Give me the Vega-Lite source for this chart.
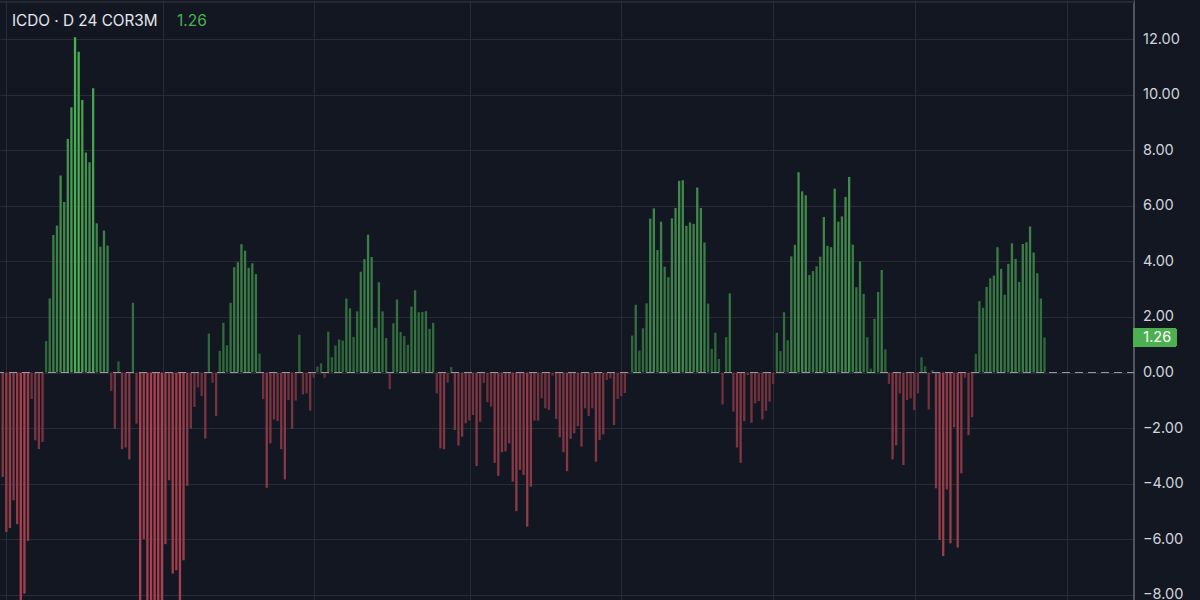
{
  "$schema": "https://vega.github.io/schema/vega-lite/v6.json",
  "width": 1133.5,
  "height": 600,
  "autosize": {"type": "none"},
  "padding": {"left": 0, "top": 0, "right": 66.5, "bottom": 0},
  "background": "#131722",
  "view": {"stroke": null},
  "data": {"values": [
    {"i":0,"v":-3.76},{"i":1,"v":-5.74},{"i":2,"v":-5.6},{"i":3,"v":-4.6},{"i":4,"v":-5.46},{"i":5,"v":-8.5},{"i":6,"v":-7.96},{"i":7,"v":-6.06},{"i":8,"v":-0.95},{"i":9,"v":-2.44},
    {"i":10,"v":-2.76},{"i":11,"v":-2.5},{"i":12,"v":1.13},{"i":13,"v":2.67},{"i":14,"v":4.95},{"i":15,"v":5.29},{"i":16,"v":7.09},{"i":17,"v":6.14},{"i":18,"v":8.41},{"i":19,"v":9.55},
    {"i":20,"v":12.07},{"i":21,"v":11.55},{"i":22,"v":9.81},{"i":23,"v":7.92},{"i":24,"v":7.57},{"i":25,"v":10.23},{"i":26,"v":5.37},{"i":27,"v":4.53},{"i":28,"v":5.11},{"i":29,"v":4.57},
    {"i":30,"v":-0.66},{"i":31,"v":-2.03},{"i":32,"v":0.4},{"i":33,"v":-2.76},{"i":34,"v":-2.7},{"i":35,"v":-3.13},{"i":36,"v":2.51},{"i":37,"v":-1.84},{"i":38,"v":-8.5},{"i":39,"v":-6.0},
    {"i":40,"v":-8.4},{"i":41,"v":-8.6},{"i":42,"v":-9.0},{"i":43,"v":-8.8},{"i":44,"v":-8.4},{"i":45,"v":-6.18},{"i":46,"v":-3.88},{"i":47,"v":-7.24},{"i":48,"v":-7.12},{"i":49,"v":-8.3},
    {"i":50,"v":-6.76},{"i":51,"v":-4.08},{"i":52,"v":-2.02},{"i":53,"v":-1.24},{"i":54,"v":-0.54},{"i":55,"v":-0.85},{"i":56,"v":-2.38},{"i":57,"v":1.4},{"i":58,"v":-0.37},{"i":59,"v":-1.57},
    {"i":60,"v":0.78},{"i":61,"v":1.79},{"i":62,"v":0.98},{"i":63,"v":2.51},{"i":64,"v":3.79},{"i":65,"v":3.97},{"i":66,"v":4.62},{"i":67,"v":4.39},{"i":68,"v":3.77},{"i":69,"v":3.93},
    {"i":70,"v":3.54},{"i":71,"v":0.68},{"i":72,"v":-0.96},{"i":73,"v":-4.15},{"i":74,"v":-2.55},{"i":75,"v":-1.69},{"i":76,"v":-1.75},{"i":77,"v":-2.76},{"i":78,"v":-3.85},{"i":79,"v":-0.99},
    {"i":80,"v":-2.03},{"i":81,"v":-1.01},{"i":82,"v":1.36},{"i":83,"v":-0.79},{"i":84,"v":-0.75},{"i":85,"v":-1.37},{"i":86,"v":-0.19},{"i":87,"v":0.21},{"i":88,"v":0.33},{"i":89,"v":-0.19},
    {"i":90,"v":1.47},{"i":91,"v":0.55},{"i":92,"v":0.97},{"i":93,"v":1.19},{"i":94,"v":1.15},{"i":95,"v":2.66},{"i":96,"v":2.31},{"i":97,"v":1.28},{"i":98,"v":2.2},{"i":99,"v":3.63},
    {"i":100,"v":4.08},{"i":101,"v":4.96},{"i":102,"v":4.16},{"i":103,"v":1.61},{"i":104,"v":3.25},{"i":105,"v":2.2},{"i":106,"v":1.24},{"i":107,"v":-0.6},{"i":108,"v":1.77},{"i":109,"v":2.63},
    {"i":110,"v":1.46},{"i":111,"v":1.31},{"i":112,"v":1.0},{"i":113,"v":2.37},{"i":114,"v":2.96},{"i":115,"v":2.17},{"i":116,"v":2.18},{"i":117,"v":2.21},{"i":118,"v":1.57},{"i":119,"v":1.79},
    {"i":120,"v":-0.75},{"i":121,"v":-2.73},{"i":122,"v":-2.76},{"i":123,"v":-0.37},{"i":124,"v":0.2},{"i":125,"v":-2.07},{"i":126,"v":-2.63},{"i":127,"v":-2.31},{"i":128,"v":-1.83},{"i":129,"v":-1.73},
    {"i":130,"v":-1.53},{"i":131,"v":-3.37},{"i":132,"v":-1.77},{"i":133,"v":-0.37},{"i":134,"v":-1.07},{"i":135,"v":-1.23},{"i":136,"v":-3.25},{"i":137,"v":-3.72},{"i":138,"v":-2.87},{"i":139,"v":-2.84},
    {"i":140,"v":-2.55},{"i":141,"v":-3.93},{"i":142,"v":-4.99},{"i":143,"v":-3.51},{"i":144,"v":-3.69},{"i":145,"v":-5.55},{"i":146,"v":-4.11},{"i":147,"v":-1.73},{"i":148,"v":-1.73},{"i":149,"v":-0.93},
    {"i":150,"v":-1.29},{"i":151,"v":-1.35},{"i":152,"v":-0.11},{"i":153,"v":-1.67},{"i":154,"v":-2.33},{"i":155,"v":-2.87},{"i":156,"v":-3.55},{"i":157,"v":-2.39},{"i":158,"v":-2.19},{"i":159,"v":-1.93},
    {"i":160,"v":-2.67},{"i":161,"v":-1.29},{"i":162,"v":-1.57},{"i":163,"v":-1.29},{"i":164,"v":-3.21},{"i":165,"v":-2.43},{"i":166,"v":-2.23},{"i":167,"v":-0.27},{"i":168,"v":-0.21},{"i":169,"v":-1.89},
    {"i":170,"v":-0.95},{"i":171,"v":-0.85},{"i":172,"v":-0.74},{"i":173,"v":0.02},{"i":174,"v":1.33},{"i":175,"v":2.44},{"i":176,"v":0.79},{"i":177,"v":1.59},{"i":178,"v":2.49},{"i":179,"v":5.54},
    {"i":180,"v":5.91},{"i":181,"v":4.41},{"i":182,"v":5.43},{"i":183,"v":3.81},{"i":184,"v":3.43},{"i":185,"v":5.55},{"i":186,"v":5.92},{"i":187,"v":6.9},{"i":188,"v":6.92},{"i":189,"v":5.28},
    {"i":190,"v":5.4},{"i":191,"v":5.35},{"i":192,"v":6.66},{"i":193,"v":5.92},{"i":194,"v":4.68},{"i":195,"v":2.48},{"i":196,"v":0.85},{"i":197,"v":1.43},{"i":198,"v":0.49},{"i":199,"v":-1.15},
    {"i":200,"v":1.27},{"i":201,"v":2.85},{"i":202,"v":-1.41},{"i":203,"v":-2.7},{"i":204,"v":-3.25},{"i":205,"v":-1.75},{"i":206,"v":-0.09},{"i":207,"v":-1.81},{"i":208,"v":-1.11},{"i":209,"v":-1.03},
    {"i":210,"v":-1.69},{"i":211,"v":-1.38},{"i":212,"v":-1.05},{"i":213,"v":-0.41},{"i":214,"v":1.43},{"i":215,"v":0.77},{"i":216,"v":2.17},{"i":217,"v":1.16},{"i":218,"v":4.18},{"i":219,"v":4.6},
    {"i":220,"v":7.21},{"i":221,"v":6.52},{"i":222,"v":6.38},{"i":223,"v":3.51},{"i":224,"v":3.65},{"i":225,"v":3.82},{"i":226,"v":4.17},{"i":227,"v":5.6},{"i":228,"v":4.56},{"i":229,"v":4.51},
    {"i":230,"v":6.62},{"i":231,"v":5.43},{"i":232,"v":5.62},{"i":233,"v":6.32},{"i":234,"v":7.04},{"i":235,"v":4.6},{"i":236,"v":3.07},{"i":237,"v":4.0},{"i":238,"v":2.83},{"i":239,"v":1.27},
    {"i":240,"v":0.14},{"i":241,"v":1.93},{"i":242,"v":2.9},{"i":243,"v":3.69},{"i":244,"v":0.83},{"i":245,"v":-0.41},{"i":246,"v":-3.13},{"i":247,"v":-2.62},{"i":248,"v":-0.75},{"i":249,"v":-3.33},
    {"i":250,"v":-0.99},{"i":251,"v":-0.93},{"i":252,"v":-1.35},{"i":253,"v":-0.75},{"i":254,"v":0.55},{"i":255,"v":0.22},{"i":256,"v":-1.33},{"i":257,"v":0.08},{"i":258,"v":-4.17},{"i":259,"v":-6.03},
    {"i":260,"v":-6.61},{"i":261,"v":-4.21},{"i":262,"v":-6.15},{"i":263,"v":-1.97},{"i":264,"v":-6.3},{"i":265,"v":-3.63},{"i":266,"v":-0.19},{"i":267,"v":-2.26},{"i":268,"v":-1.61},{"i":269,"v":0.67},
    {"i":270,"v":2.57},{"i":271,"v":2.33},{"i":272,"v":3.08},{"i":273,"v":3.39},{"i":274,"v":3.49},{"i":275,"v":4.51},{"i":276,"v":3.73},{"i":277,"v":2.8},{"i":278,"v":3.91},{"i":279,"v":4.65},
    {"i":280,"v":4.09},{"i":281,"v":3.26},{"i":282,"v":4.63},{"i":283,"v":4.69},{"i":284,"v":5.26},{"i":285,"v":4.32},{"i":286,"v":3.57},{"i":287,"v":2.66},{"i":288,"v":1.26}
  ]},
  "layer": [
    {
      "mark": {"type": "bar", "orient": "vertical", "size": 2.3, "clip": true},
      "encoding": {
        "x": {
          "field": "i",
          "type": "quantitative",
          "scale": {"domain": [-0.746, 312.6], "nice": false, "zero": false, "padding": 0},
          "axis": {
            "title": null,
            "labels": false,
            "ticks": false,
            "domain": false,
            "grid": true,
            "gridColor": "#282c37",
            "values": [0.91, 44.24, 86.07, 129.2, 170.9, 212.97, 252.2, 294.2]
          }
        },
        "y": {
          "field": "v",
          "type": "quantitative",
          "scale": {"domain": [-8.19, 13.41], "nice": false, "zero": false},
          "axis": {
            "title": null,
            "orient": "right",
            "values": [-8, -6, -4, -2, 0, 2, 4, 6, 8, 10, 12],
            "format": ".2f",
            "ticks": false,
            "domain": true,
            "domainColor": "#8f929c",
            "grid": true,
            "gridColor": "#282c37",
            "labelFont": "Inter",
            "labelFontSize": 14.5,
            "labelColor": "#d1d4dc",
            "labelPadding": 9,
            "labelAlign": "left"
          }
        },
        "color": {
          "field": "v",
          "type": "quantitative",
          "legend": null,
          "scale": {
            "domain": [-8, -5, -2, -0.01, 0.01, 1, 4, 7, 12],
            "range": ["#a83f4d", "#8f3b47", "#7a3440", "#682d39", "#2a5c36", "#2e6739", "#397a44", "#418c4b", "#4aaf50"]
          }
        }
      }
    },
    {
      "mark": {"type": "rule", "color": "#9598a1", "strokeWidth": 1, "strokeDash": [7, 6], "strokeDashOffset": 1},
      "encoding": {
        "y": {"datum": 0, "type": "quantitative", "scale": {"domain": [-8.19, 13.41], "nice": false, "zero": false}}
      }
    },
    {
      "mark": {"type": "rule", "color": "#282c37", "strokeWidth": 1},
      "encoding": {
        "y": {"datum": 13.35, "type": "quantitative", "scale": {"domain": [-8.19, 13.41], "nice": false, "zero": false}}
      }
    },
    {
      "mark": {"type": "rect", "color": "#4caf50", "clip": false, "cornerRadiusTopRight": 3, "cornerRadiusBottomRight": 3},
      "encoding": {
        "x": {"datum": 312.6, "type": "quantitative", "scale": {"domain": [-0.746, 312.6], "nice": false, "zero": false, "padding": 0}},
        "x2": {"datum": 324.6},
        "y": {"datum": 1.6, "type": "quantitative", "scale": {"domain": [-8.19, 13.41], "nice": false, "zero": false}},
        "y2": {"datum": 0.92}
      }
    },
    {
      "data": {"values": [{"value": 1.26}]},
      "mark": {"type": "text", "align": "left", "baseline": "middle", "font": "Inter", "fontSize": 14.5, "color": "#ffffff"},
      "encoding": {
        "x": {"datum": 315.3, "type": "quantitative", "scale": {"domain": [-0.746, 312.6], "nice": false, "zero": false, "padding": 0}},
        "y": {"field": "value", "type": "quantitative", "scale": {"domain": [-8.19, 13.41], "nice": false, "zero": false}},
        "text": {"field": "value", "type": "quantitative", "format": ".2f"}
      }
    },
    {
      "data": {"values": [{"label": "ICDO · D 24 COR3M"}]},
      "mark": {"type": "text", "align": "left", "baseline": "middle", "font": "Inter", "fontSize": 15.3, "color": "#e4e6ec"},
      "encoding": {
        "x": {"datum": 2.57, "type": "quantitative", "scale": {"domain": [-0.746, 312.6], "nice": false, "zero": false, "padding": 0}},
        "y": {"datum": 12.66, "type": "quantitative", "scale": {"domain": [-8.19, 13.41], "nice": false, "zero": false}},
        "text": {"field": "label", "type": "nominal"}
      }
    },
    {
      "data": {"values": [{"value": 1.26}]},
      "mark": {"type": "text", "align": "left", "baseline": "middle", "font": "Inter", "fontSize": 15.5, "color": "#4caf50"},
      "encoding": {
        "x": {"datum": 48.2, "type": "quantitative", "scale": {"domain": [-0.746, 312.6], "nice": false, "zero": false, "padding": 0}},
        "y": {"datum": 12.66, "type": "quantitative", "scale": {"domain": [-8.19, 13.41], "nice": false, "zero": false}},
        "text": {"field": "value", "type": "quantitative", "format": ".2f"}
      }
    }
  ]
}
